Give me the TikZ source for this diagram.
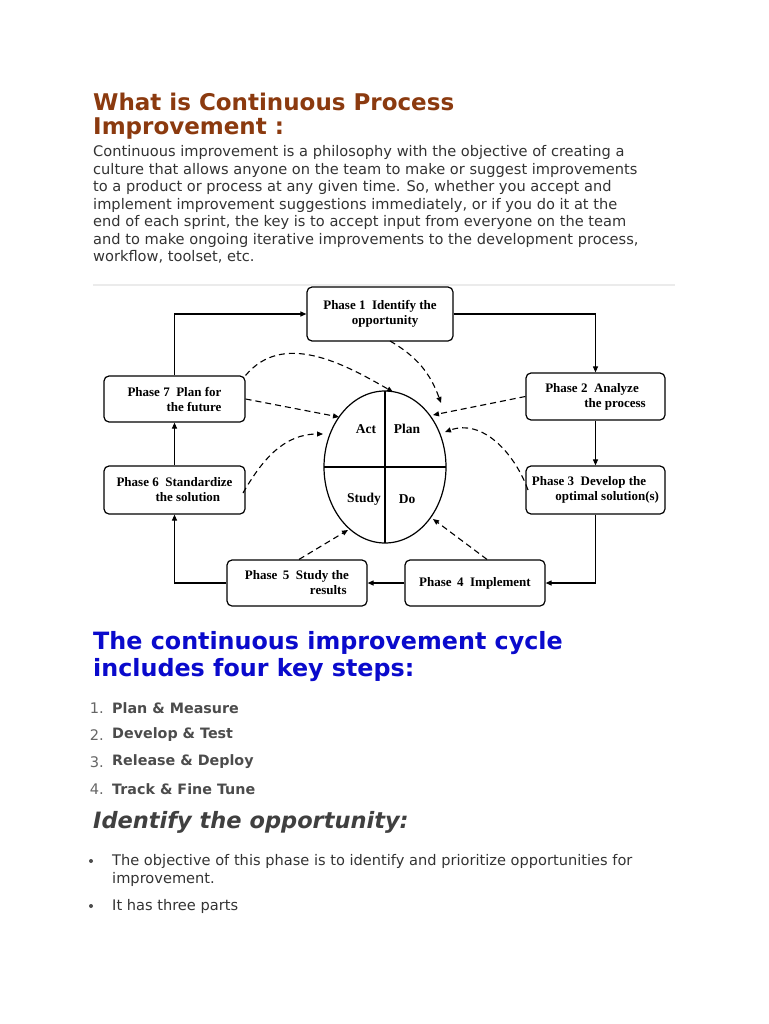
\documentclass[tikz,border=0pt]{standalone}
\usepackage{fontspec}
\setmainfont{DejaVu Sans}
\newfontfamily\diag{Liberation Serif}
\usetikzlibrary{arrows.meta,calc}
\definecolor{brownh}{HTML}{8B3A0F}
\definecolor{blueh}{HTML}{0A0ACC}
\definecolor{txt}{HTML}{333333}
\begin{document}
\begin{tikzpicture}[x=1pt,y=-1pt,
 txtl/.style={anchor=west,inner sep=0pt,font=\fontsize{14.6}{16}\selectfont,text=txt},
 phase/.style={draw,rounded corners=5pt,line width=1.2pt,font=\diag\fontsize{13}{15}\selectfont\bfseries,align=left,inner sep=2pt},
 lbl/.style={font=\diag\fontsize{13.5}{15}\selectfont\bfseries},
 flow/.style={line width=1.1pt,-{Triangle[length=6pt,width=5pt]}},
 dsh/.style={line width=1.1pt,dash pattern=on 6pt off 4pt,-{Triangle[length=6pt,width=5pt]}}]
\useasboundingbox[fill=white] (0,0) rectangle (768,1024);
% heading
\node[anchor=west,inner sep=0pt,text=brownh,font=\fontsize{23}{26}\selectfont\bfseries] (h1) at (93,102) {What is Continuous Process};
\node[anchor=west,inner sep=0pt,text=brownh,font=\fontsize{23}{26}\selectfont\bfseries] (h2) at (93,129) {Improvement :};
\node[txtl] (b1) at (93,152) {Continuous improvement is a philosophy with the objective of creating a};
\node[txtl] (b2) at (93,170) {culture that allows anyone on the team to make or suggest improvements};
\node[txtl] (b3) at (93,187) {to a product or process at any given time. So, whether you accept and};
\node[txtl] (b4) at (93,205) {implement improvement suggestions immediately, or if you do it at the};
\node[txtl] (b5) at (93,222) {end of each sprint, the key is to accept input from everyone on the team};
\node[txtl] (b6) at (93,240) {and to make ongoing iterative improvements to the development process,};
\node[txtl] (b7) at (93,257) {workflow, toolset, etc.};
\draw[black!8,line width=1.5pt] (93,285) -- (675,285);
% diagram
\node[phase,minimum width=146pt,minimum height=54pt] (p1) at (380,314) {Phase 1 \ Identify the\\\hspace*{2.2em}opportunity};
\node[phase,minimum width=139pt,minimum height=47pt] (p2) at (595.5,396.5) {Phase 2 \ Analyze\\\hspace*{3em}the process};
\node[phase,minimum width=139pt,minimum height=48pt] (p3) at (595.5,490) {Phase 3 \ Develop the\\\hspace*{1.8em}optimal solution(s)};
\node[phase,minimum width=140pt,minimum height=46pt] (p4) at (475,583) {Phase \,4 \ Implement};
\node[phase,minimum width=140pt,minimum height=46pt] (p5) at (297,583) {Phase \,5 \ Study the\\\hspace*{5em}results};
\node[phase,minimum width=141pt,minimum height=48pt] (p6) at (174.5,490) {Phase 6 \ Standardize\\\hspace*{3em}the solution};
\node[phase,minimum width=141pt,minimum height=46pt] (p7) at (174.5,399) {Phase 7 \ Plan for\\\hspace*{3em}the future};
\draw[line width=1.2pt] (385,467) ellipse (61 and 76);
\coordinate (cc) at (385,467);
\draw[line width=1.2pt] (385,391) -- (385,543) (324,467) -- (446,467);
\node[lbl] (act) at (366,429) {Act};
\node[lbl] (plan) at (407,429) {Plan};
\node[lbl] (study) at (364,499) {Study};
\node[lbl] (do) at (407,499) {Do};
% solid flow
\draw[flow] (p7.north) |- (p1.west);
\draw[flow] (p1.east) -| (p2.north);
\draw[flow] (p2.south) -- (p3.north);
\draw[flow] (p3.south) |- (p4.east);
\draw[flow] (p4.west) -- (p5.east);
\draw[flow] (p5.west) -| (p6.south);
\draw[flow] (p6.north) -- (p7.south);
% dashed
\draw[dsh] (390,341) to[out=-30,in=110] ($(cc)+(56,-64)$);
\draw[dsh] (p7.north east) to[out=50,in=150] ($(cc)+(8,-75)$);
\draw[dsh] (p7.east) -- ($(cc)+(-46,-50)$);
\draw[dsh] (p2.west) -- ($(cc)+(48,-52)$);
\draw[dsh] (528,490) to[out=110,in=20] ($(cc)+(60,-35)$);
\draw[dsh] (243,493) to[out=60,in=180] ($(cc)+(-62,-33)$);
\draw[dsh] ($(p5.north)+(2,0)$) -- ($(cc)+(-37,63)$);
\draw[dsh] ($(p4.north)+(12,0)$) -- ($(cc)+(48,52)$);
% blue heading
\node[anchor=west,inner sep=0pt,text=blueh,font=\fontsize{23.8}{27}\selectfont\bfseries] (bh1) at (93,643) {The continuous improvement cycle};
\node[anchor=west,inner sep=0pt,text=blueh,font=\fontsize{23.8}{27}\selectfont\bfseries] (bh2) at (93,670) {includes four key steps:};
\foreach \n/\t [count=\i] in {708/Plan \& Measure,735/Develop \& Test,762/Release \& Deploy,789/Track \& Fine Tune}{
 \node[txtl,anchor=east,text=black!60] (n\i) at (104,\n) {\i.};
 \node[txtl,font=\fontsize{14.3}{16}\selectfont\bfseries,text=black!70] (l\i) at (112,\n) {\t};
}
\node[anchor=west,inner sep=0pt,text=black!75,font=\fontsize{22.5}{26}\selectfont\bfseries\itshape] (id) at (93,822) {Identify the opportunity:};
\fill[black!70] (91,861) circle (2);
\fill[black!70] (91,906) circle (2);
\node[txtl] (c1) at (112,861) {The objective of this phase is to identify and prioritize opportunities for};
\node[txtl] (c2) at (112,879) {improvement.};
\node[txtl] (c3) at (112,906) {It has three parts};
\end{tikzpicture}
\end{document}
